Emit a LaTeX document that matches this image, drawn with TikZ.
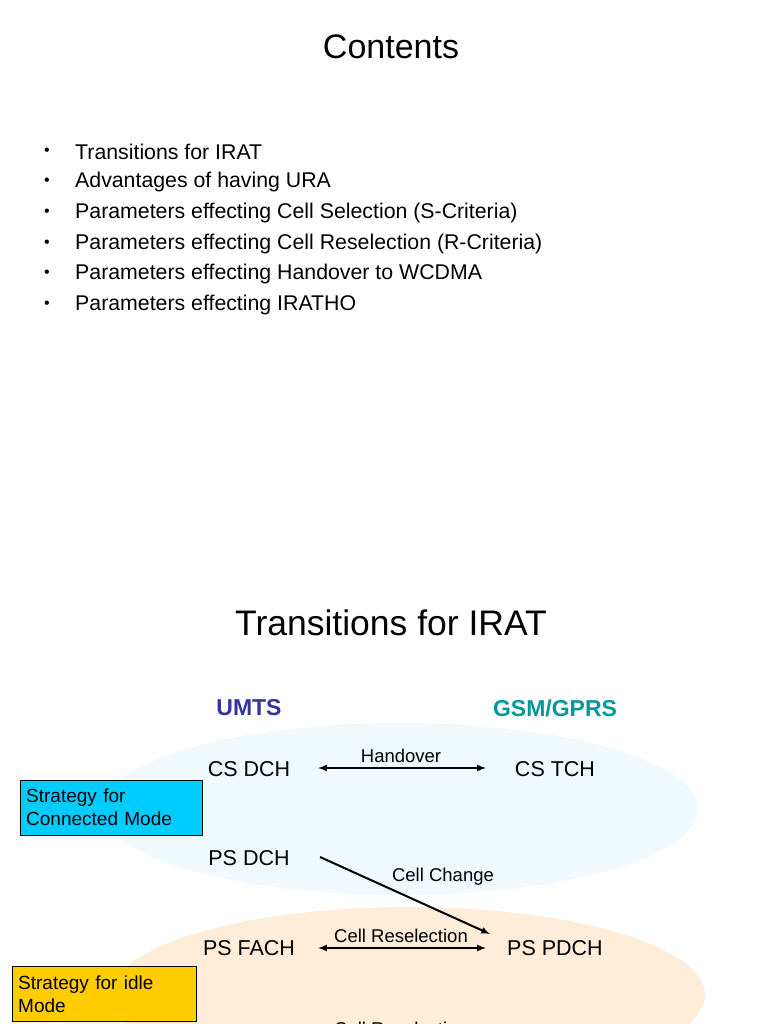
\documentclass[tikz,border=0pt]{standalone}
\usepackage{fontspec}
\setmainfont{Liberation Sans}
\begin{document}
\begin{tikzpicture}[x=1pt,y=-1pt,
  lbl/.style={font=\fontsize{21.5}{24}\selectfont,inner sep=0},
  small/.style={font=\fontsize{18.5}{21}\selectfont,inner sep=0},
  bul/.style={font=\fontsize{21.3}{24}\selectfont,anchor=west,inner sep=0},
  strat/.style={draw=black,anchor=north west,align=left,font=\fontsize{19}{23}\selectfont,inner xsep=6pt,inner ysep=4pt,minimum height=55pt},
  arr/.style={line width=2pt,<->,>=latex}]
\useasboundingbox (0,0) rectangle (768,1024);
\clip (0,0) rectangle (768,1024);
\fill[white] (0,0) rectangle (768,1024);
\node (t1) at (391,47) {\fontsize{34}{38}\selectfont Contents};
\foreach \y/\t [count=\i] in {152/Transitions for IRAT,182/Advantages of having URA,213/Parameters effecting Cell Selection (S-Criteria),244/Parameters effecting Cell Reselection (R-Criteria),274/Parameters effecting Handover to WCDMA,305/Parameters effecting IRATHO}{
  \node[bul] (b\i) at (44,\y) {\fontsize{16}{18}\selectfont •};
  \node[bul] (i\i) at (75,\y) {\t};
}
\node (t2) at (391,623) {\fontsize{35.5}{40}\selectfont Transitions for IRAT};
\fill[cyan!6!white] (400,809) ellipse (298 and 86);
\fill[orange!15!white] (408,995) ellipse (297 and 88);
\node[strat,fill={rgb,255:red,0;green,204;blue,255},text width=170pt] (sc) at (20,780) {Strategy for\\Connected Mode};
\node[strat,fill={rgb,255:red,255;green,204;blue,0},text width=172pt] (si) at (12,966) {Strategy for idle\\Mode};
\node[lbl,font=\fontsize{23}{26}\selectfont\bfseries,text={rgb,255:red,51;green,51;blue,153}] (umts) at (249,708) {UMTS};
\node[lbl,font=\fontsize{23}{26}\selectfont\bfseries,text={rgb,255:red,0;green,153;blue,153}] (gsm) at (555,708) {GSM/GPRS};
\node[lbl] (csdch) at (249,769) {CS DCH};
\node[lbl] (cstch) at (555,769) {CS TCH};
\node[lbl] (psdch) at (249,858) {PS DCH};
\node[lbl] (psfach) at (249,948) {PS FACH};
\node[lbl] (pspdch) at (555,948) {PS PDCH};
\coordinate (a1) at (318,768); \coordinate (a2) at (486,768);
\coordinate (c1) at (320,857); \coordinate (c2) at (490,934);
\coordinate (r1) at (318,948); \coordinate (r2) at (486,948);
\draw[arr] (a1) -- (a2);
\draw[line width=2pt,->,>=latex] (c1) -- (c2);
\draw[arr] (r1) -- (r2);
\node[small] (ho) at (401,756) {Handover};
\node[small] (cc) at (443,877) {Cell Change};
\node[small] (cr) at (401,936) {Cell Reselection};
\node[small] (cr2) at (401,1029) {Cell Reselection};
\end{tikzpicture}
\end{document}
